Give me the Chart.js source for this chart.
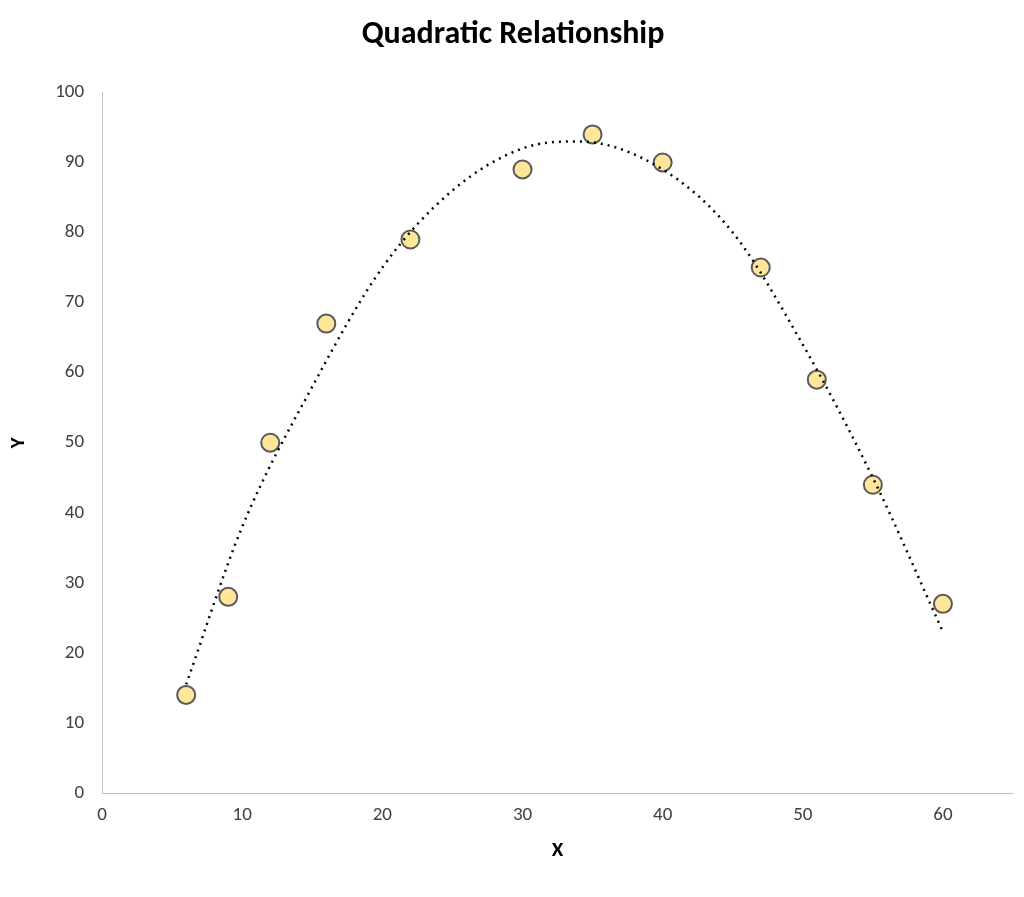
<!DOCTYPE html>
<html><head><meta charset="utf-8">
<script src="https://cdn.jsdelivr.net/npm/chart.js@4"></script>
<style>html,body{margin:0;padding:0;background:#fff}#w{width:1024px;height:897px}</style>
</head><body><div id="w"><canvas id="c"></canvas></div>
<script>
const xs=[6,9,12,16,22,30,35,40,47,51,55,60];
const ys=[14,28,50,67,79,89,94,90,75,59,44,27];
const trendX=[6,10,15,20,25,30,34,40,45,50,55,60];
const trendY=[15.5,38,58,75,86,92,93,89,80,64,45,23];
const pts=xs.map((x,i)=>({x,y:ys[i]}));
const tr=trendX.map((x,i)=>({x,y:trendY[i]}));
const font={family:'Calibri, Carlito, "Liberation Sans", sans-serif',size:19};
new Chart(document.getElementById('c'),{
type:'scatter',
data:{datasets:[
{data:tr,showLine:true,pointRadius:0,borderColor:'#000',borderWidth:2.5,borderDash:[2,5],cubicInterpolationMode:'monotone',fill:false},
{data:pts,pointRadius:9,pointHoverRadius:9,backgroundColor:'#FFE699',borderColor:'#595959',borderWidth:2}
]},
options:{responsive:true,maintainAspectRatio:false,animation:false,
layout:{padding:{left:2,right:0,top:12,bottom:30}},
plugins:{legend:{display:false},tooltip:{enabled:false},
title:{display:true,text:'Quadratic Relationship',color:'#000',font:{...font,size:32,weight:'bold'},padding:{top:4,bottom:38}}},
scales:{
x:{type:'linear',min:0,max:65,ticks:{stepSize:10,color:'#404040',font,callback:v=>v%10===0?v:''},
grid:{display:false},border:{color:'#bfbfbf'},
title:{display:true,text:'X',color:'#000',font:{...font,size:21,weight:'bold'},padding:{top:8}}},
y:{min:0,max:100,ticks:{stepSize:10,color:'#404040',font,padding:10},
grid:{display:false},border:{color:'#bfbfbf'},
title:{display:true,text:'Y',color:'#000',font:{...font,size:21,weight:'bold'},padding:{bottom:14}}}
}}});
</script></body></html>
